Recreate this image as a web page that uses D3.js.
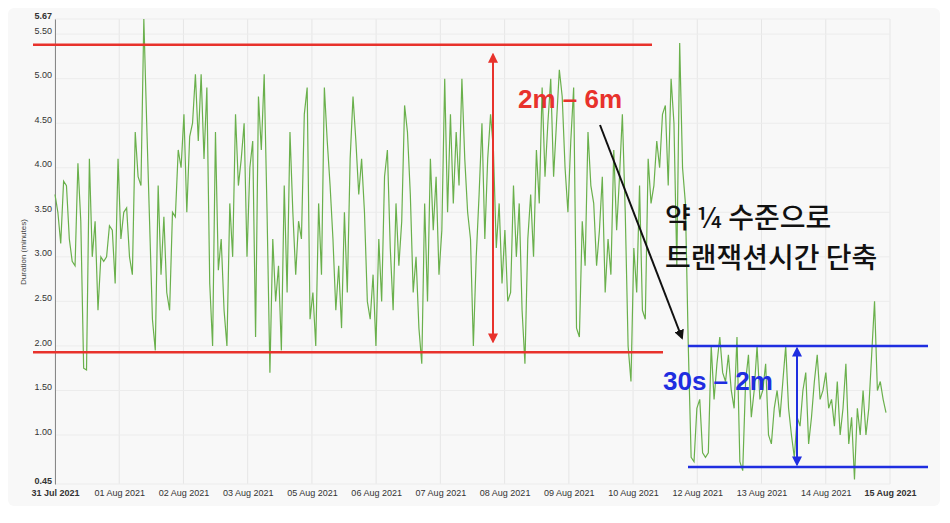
<!DOCTYPE html>
<html><head><meta charset="utf-8">
<script src="https://cdn.jsdelivr.net/npm/d3@7"></script>
<style>body{margin:0;background:#fff;font-family:"Liberation Sans",Arial,sans-serif}</style>
</head><body>
<svg id="c" width="950" height="523"></svg>
<script>
var tickLabels = ["31 Jul 2021","01 Aug 2021","02 Aug 2021","03 Aug 2021","05 Aug 2021","06 Aug 2021","07 Aug 2021","08 Aug 2021","09 Aug 2021","10 Aug 2021","12 Aug 2021","13 Aug 2021","14 Aug 2021","15 Aug 2021"];
var yTicks = [0.45,1.0,1.5,2.0,2.5,3.0,3.5,4.0,4.5,5.0,5.5,5.67];
var durations = [
3.7,3.5,3.15,3.85,3.8,3.2,2.95,2.9,4.05,3.4,1.75,1.73,4.1,3.0,3.4,2.4,3.0,2.95,3.0,3.35,3.3,
2.7,4.1,3.2,3.5,3.55,3.0,2.8,4.4,3.9,3.8,5.67,4.5,3.4,2.3,1.95,3.8,2.8,3.45,2.6,2.4,3.5,
3.45,4.2,4.0,4.6,3.5,4.35,4.5,5.05,4.3,5.05,4.1,4.9,2.7,2.0,4.4,2.85,3.2,2.4,2.0,3.6,3.0,
4.6,3.8,4.1,4.5,3.0,4.0,4.3,2.1,4.8,4.2,5.05,3.5,1.7,3.2,2.5,2.9,1.95,3.8,2.6,4.4,3.5,
2.8,3.4,3.2,4.6,4.9,2.3,2.6,2.0,3.6,2.8,4.9,4.3,3.8,3.2,2.4,2.9,2.2,3.5,2.6,4.1,4.8,
4.3,3.7,4.1,3.5,2.5,2.3,2.8,2.0,3.2,2.5,3.9,4.2,3.1,2.4,3.6,2.9,3.4,4.7,4.4,3.7,2.6,
3.0,2.2,1.8,3.6,2.5,4.1,3.3,3.9,2.8,3.3,5.0,3.5,4.6,3.6,4.4,3.8,5.0,4.1,3.5,3.2,2.0,
3.0,3.7,4.5,3.2,4.1,4.6,4.2,3.1,3.6,2.7,3.3,2.5,2.6,3.8,3.0,3.6,2.4,1.8,3.2,3.7,3.0,
4.2,3.6,4.9,3.9,4.5,5.0,3.9,4.5,5.1,4.8,4.0,3.5,4.3,4.9,2.2,2.1,3.4,2.9,4.4,3.8,3.6,
2.9,3.3,3.9,2.6,3.2,2.8,4.2,3.3,3.9,4.6,3.5,2.0,1.6,3.1,2.6,3.8,2.4,2.3,4.1,3.6,3.8,
4.3,4.0,4.6,4.7,3.8,5.0,4.5,2.9,5.4,4.0,3.6,2.0,0.75,0.7,1.3,1.4,0.8,0.75,0.8,2.0,1.4,
1.8,2.1,1.7,1.6,1.9,1.5,1.3,2.1,0.7,0.6,1.6,1.9,1.2,1.5,2.0,1.4,1.5,1.8,1.0,0.9,1.3,
1.5,1.2,1.6,2.0,1.3,1.0,0.75,1.2,1.1,1.5,1.7,0.9,1.2,1.6,1.9,1.4,1.5,1.7,1.3,1.4,1.1,
1.6,1.0,1.3,1.8,0.9,1.2,0.5,1.3,1.0,1.5,1.0,1.3,1.9,2.5,1.5,1.6,1.4,1.25];

var svg = d3.select("#c");
svg.append("rect").attr("x",8).attr("y",8).attr("width",932).attr("height",498).attr("rx",6).attr("fill","#f8f8f8");

var y = d3.scaleLinear().domain([0.45,5.67]).range([484,19]);
var tx = d3.scaleLinear().domain([0,tickLabels.length-1]).range([55,890]);
var x = d3.scaleLinear().domain([0,durations.length-1]).range([55,886]);

var g = svg.append("g");
g.selectAll(".vg").data(tickLabels).enter().append("line")
  .attr("x1",(d,i)=>tx(i)).attr("x2",(d,i)=>tx(i)).attr("y1",19).attr("y2",484)
  .attr("stroke","#e6e6e6");
g.selectAll(".hg").data(yTicks).enter().append("line")
  .attr("x1",55).attr("x2",890).attr("y1",d=>y(d)).attr("y2",d=>y(d)).attr("stroke","#ececec");

var yAxis = svg.append("g").attr("transform","translate(55,0)")
  .call(d3.axisLeft(y).tickValues(yTicks).tickFormat(d3.format(".2f")).tickSize(0).tickPadding(3));
yAxis.select(".domain").attr("stroke","#888");
yAxis.selectAll("text").attr("font-size",9).attr("fill","#333").attr("dy","-0.1em")
  .attr("font-weight",d=>(d==0.45||d==5.67)?"bold":null);

var xAxis = svg.append("g").attr("transform","translate(0,484)")
  .call(d3.axisBottom(tx).tickValues(d3.range(tickLabels.length)).tickFormat(i=>tickLabels[i]).tickSize(0).tickPadding(6));
xAxis.select(".domain").remove();
xAxis.selectAll("text").attr("font-size",9).attr("fill","#333")
  .attr("font-weight",(d,i)=>(i==0||i==tickLabels.length-1)?"bold":null);

svg.append("text").attr("transform","translate(26,252) rotate(-90)").attr("text-anchor","middle")
  .attr("font-size",8).attr("fill","#444").text("Duration (minutes)");

svg.append("path").datum(durations)
  .attr("d",d3.line().x((d,i)=>x(i)).y(d=>y(d)))
  .attr("fill","none").attr("stroke","#6ab04c").attr("stroke-width",1.2);

// annotations
var defs = svg.append("defs");
function marker(id,color){
  defs.append("marker").attr("id",id).attr("viewBox","0 0 10 10").attr("refX",8).attr("refY",5)
    .attr("markerWidth",5).attr("markerHeight",5).attr("orient","auto-start-reverse")
    .append("path").attr("d","M0,0L10,5L0,10z").attr("fill",color);
}
marker("mr","#e8322c"); marker("mb","#1f2ee0"); marker("mk","#111");
function hl(x1,x2,yy,c){svg.append("line").attr("x1",x1).attr("x2",x2).attr("y1",yy).attr("y2",yy).attr("stroke",c).attr("stroke-width",2.5);}
hl(33,652,y(5.38),"#e8322c"); hl(33,663,y(1.93),"#e8322c");
hl(688,928,y(2.0),"#1f2ee0"); hl(688,928,y(0.64),"#1f2ee0");
svg.append("line").attr("x1",493).attr("x2",493).attr("y1",y(5.27)).attr("y2",y(2.05))
  .attr("stroke","#e8322c").attr("stroke-width",2).attr("marker-start","url(#mr)").attr("marker-end","url(#mr)");
svg.append("line").attr("x1",797).attr("x2",797).attr("y1",y(1.97)).attr("y2",y(0.67))
  .attr("stroke","#1f2ee0").attr("stroke-width",2).attr("marker-start","url(#mb)").attr("marker-end","url(#mb)");
svg.append("line").attr("x1",600).attr("x2",682).attr("y1",125).attr("y2",338)
  .attr("stroke","#111").attr("stroke-width",2).attr("marker-end","url(#mk)");
svg.append("text").attr("x",518).attr("y",108).attr("font-size",26).attr("font-weight","bold").attr("fill","#e8322c").text("2m – 6m");
svg.append("text").attr("x",663).attr("y",390).attr("font-size",26).attr("font-weight","bold").attr("fill","#1f2ee0").text("30s – 2m");
svg.append("text").attr("x",665).attr("y",228).attr("font-size",28).attr("font-family","Noto Sans CJK KR").attr("font-weight",500).attr("fill","#111").text("약 ¼ 수준으로");
svg.append("text").attr("x",665).attr("y",268).attr("font-size",28).attr("font-family","Noto Sans CJK KR").attr("font-weight",500).attr("fill","#111").text("트랜잭션시간 단축");
</script>
</body></html>
